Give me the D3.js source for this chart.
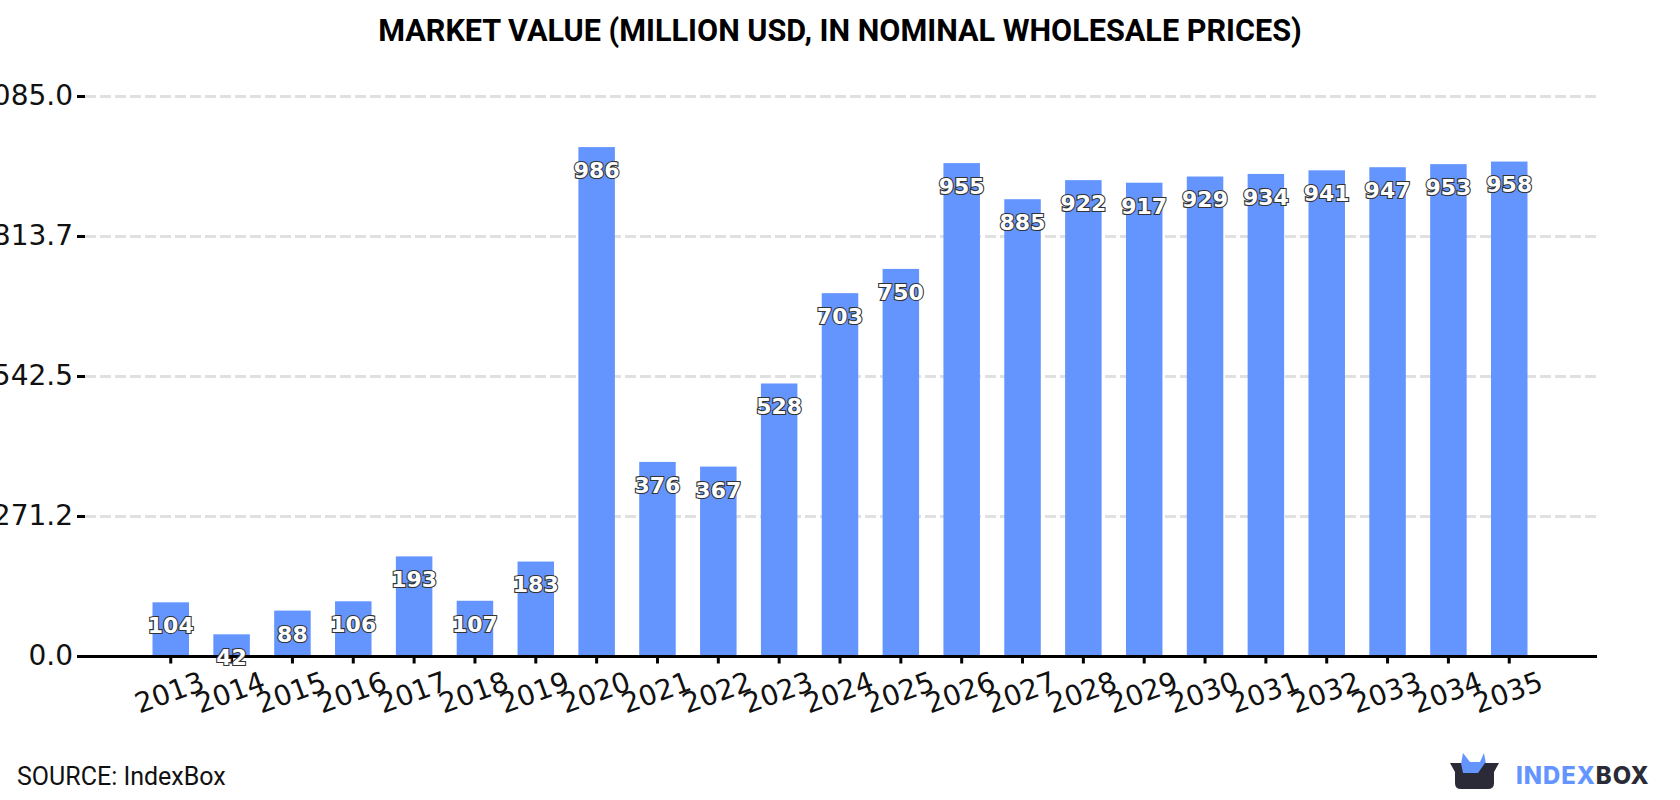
<!DOCTYPE html>
<html>
<head>
<meta charset="utf-8">
<style>
html, body { margin: 0; padding: 0; background: #fff; overflow: hidden; }
svg { display: block; }
.ytick text, .xtick text { font-family: "DejaVu Sans", sans-serif; fill: #111; }
</style>
<script src="https://cdnjs.cloudflare.com/ajax/libs/d3/7.9.0/d3.min.js"></script>
</head>
<body>
<svg id="chart" width="1680" height="800"></svg>
<script>
// Market value series, 2013-2035
const years = ["2013","2014","2015","2016","2017","2018","2019","2020","2021","2022","2023","2024","2025","2026","2027","2028","2029","2030","2031","2032","2033","2034","2035"];
const marketValues = [104,42,88,106,193,107,183,986,376,367,528,703,750,955,885,922,917,929,934,941,947,953,958];
const yTickValues = [0,271.25,542.5,813.75,1085];
const yTickLabels = ["0.0","271.2","542.5","813.7","1085.0"];
const chartTitle = "MARKET VALUE (MILLION USD, IN NOMINAL WHOLESALE PRICES)";
const sourceNote = "SOURCE: IndexBox";

const svg = d3.select("#chart");
const plotLeft = 85, plotRight = 1597, plotTop = 96, plotBottom = 656;

const x = d3.scaleBand().domain(years).range([152.5, 1527.5]).paddingInner(0.4).paddingOuter(0);
const y = d3.scaleLinear().domain([0, 1085]).range([plotBottom, plotTop]);

// Title
svg.append("text").attr("x", 840).attr("y", 41).attr("text-anchor", "middle")
  .attr("font-family", "Roboto, sans-serif").attr("font-weight", 700).attr("font-size", 30.6)
  .attr("fill", "#000").text(chartTitle);

// Dashed horizontal grid
svg.append("g").selectAll("line").data(yTickValues.slice(1)).join("line")
  .attr("x1", plotLeft).attr("x2", plotRight)
  .attr("y1", d => y(d) + 0.5).attr("y2", d => y(d) + 0.5)
  .attr("stroke", "#e0e0e0").attr("stroke-width", 3).attr("stroke-dasharray", "11 4");

// Bars
svg.append("g").selectAll("rect").data(marketValues).join("rect")
  .attr("x", (d, i) => x(years[i]))
  .attr("y", d => y(d))
  .attr("width", x.bandwidth())
  .attr("height", d => plotBottom - y(d))
  .attr("fill", "#6495ff");

// Y axis
const yAxis = d3.axisLeft(y).tickValues(yTickValues).tickFormat((d, i) => yTickLabels[i]).tickSize(8).tickPadding(4);
const gy = svg.append("g").attr("class", "ytick").attr("transform", `translate(${plotLeft},0)`).call(yAxis);
gy.select(".domain").remove();
gy.selectAll("line").attr("stroke", "#000").attr("stroke-width", 3);
gy.selectAll("text").attr("font-size", 28).attr("font-family", "'DejaVu Sans', sans-serif");

// X axis
const xAxis = d3.axisBottom(x).tickSize(7).tickPadding(0).tickSizeOuter(0);
const gx = svg.append("g").attr("class", "xtick").attr("transform", `translate(0,${plotBottom + 0.5})`).call(xAxis);
gx.select(".domain").attr("d", `M${plotLeft},0H${plotRight}`).attr("stroke", "#000").attr("stroke-width", 3);
gx.selectAll("line").attr("stroke", "#000").attr("stroke-width", 3);
gx.selectAll("text")
  .attr("font-size", 28).attr("font-family", "'DejaVu Sans', sans-serif")
  .attr("text-anchor", "middle").attr("y", 0).attr("dy", 0)
  .attr("transform", "translate(2,45) rotate(-20)");

// Value labels
svg.append("g").selectAll("text").data(marketValues).join("text")
  .attr("x", (d, i) => x(years[i]) + x.bandwidth() / 2)
  .attr("y", d => y(d) + 23)
  .attr("dy", "0.36em")
  .attr("text-anchor", "middle")
  .attr("font-family", "'DejaVu Sans', sans-serif").attr("font-weight", 700).attr("font-size", 22)
  .attr("fill", "#fff").attr("stroke", "#333").attr("stroke-width", 2.2)
  .attr("paint-order", "stroke")
  .text(d => d);

// Source note
svg.append("text").attr("x", 17).attr("y", 785)
  .attr("font-family", "Roboto, sans-serif").attr("font-size", 25).attr("fill", "#111").text(sourceNote);

// IndexBox mark and wordmark
const logo = svg.append("g");
logo.append("path").attr("fill", "#6495ff")
  .attr("d", "M1461,764 L1463,753 L1470,762 L1480,762 L1484,753 L1486,764 Z");
logo.append("path").attr("fill", "#2a2b36")
  .attr("d", "M1450,763 H1499 L1494,772 V783 Q1494,789 1488,789 H1461 Q1455,789 1455,783 V772 Z");
logo.append("path").attr("fill", "#6495ff").attr("d", "M1461,763 H1485 L1478,773 H1463 Z");
const word = logo.append("text").attr("x", 1516).attr("y", 784)
  .attr("font-family", "Inter, Roboto, sans-serif").attr("font-weight", 800).attr("font-size", 23.8).attr("letter-spacing", 1);
word.append("tspan").attr("fill", "#6495ff").text("INDEX");
word.append("tspan").attr("fill", "#2a2b36").text("BOX");
</script>
</body>
</html>
